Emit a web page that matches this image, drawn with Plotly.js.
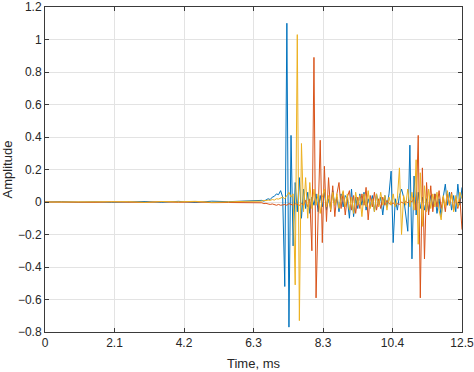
<!DOCTYPE html>
<html>
<head>
<meta charset="utf-8">
<script src="https://cdn.plot.ly/plotly-3.0.1.min.js"></script>
<style>html,body{margin:0;padding:0;background:#fff;}#chart{width:474px;height:372px;}</style>
</head>
<body>
<div id="chart"></div>
<script>
// Sparse samples of the quiet lead-in (ms)
const timePre = [0, 0.5, 1, 1.5, 2, 2.5, 3, 3.5, 4, 4.5, 5, 5.5, 6];
const bluePre = [0, 0.002, -0.001, 0.001, -0.002, 0.001, 0.003, -0.002, 0.004, -0.003, 0.005, 0.002, 0.006];
const orangePre = [0, -0.001, 0.001, -0.002, 0.001, -0.001, -0.003, 0.002, -0.002, 0.001, -0.004, -0.003, -0.004];
const yellowPre = [0, 0.001, 0.002, -0.001, 0.001, 0.002, -0.002, 0.003, 0.001, 0.004, -0.002, 0.003, 0.004];

// Dense sampled section: starts at 6.5 ms, sample step 0.0625 ms
const denseStart = 6.5;
const denseStep = 0.0625;
const blueDense = [
  0.01, 0.005, 0.012, 0.02, 0.015, 0.03, 0.035, 0.05, 0.045, 0.07,
  0.03, -0.52, 1.10, -0.77, 0.41, -0.27, 0.12, -0.06, 0.15, -0.10,
  0.08, -0.04, 0.06, -0.07, 0.03, -0.02, 0.05, -0.06, 0.04, -0.03,
  0.06, -0.05, 0.02, -0.04, 0.07, -0.02, 0.03, -0.06, 0.05, -0.03,
  0.04, 0.02, -0.10, 0.08, -0.09, 0.03, -0.04, 0.05, -0.02, 0.06,
  -0.05, 0.02, -0.03, 0.04, -0.06, 0.05, -0.02, 0.03, -0.08, 0.04,
  -0.03, 0.05, 0.19, -0.25, 0.02, -0.05, 0.04, 0.08, 0.03, -0.06,
  -0.18, 0.35, -0.35, 0.16, -0.08, 0.06, -0.04, 0.03, -0.05, 0.02,
  -0.06, 0.04, -0.03, 0.05, -0.07, 0.02, -0.09, 0.03, 0.11, -0.02,
  0.06, -0.05, 0.04, -0.06, 0.11, -0.02, 0.09
];
const orangeDense = [
  -0.005, -0.01, -0.008, -0.012, -0.015, -0.012, -0.018, -0.02, -0.015, -0.02,
  -0.018, -0.015, -0.02, -0.01, -0.015, -0.02, -0.01, -0.015, -0.02, -0.01,
  -0.02, 0.01, -0.03, 0.02, -0.30, 0.89, -0.59, -0.08, 0.38, -0.25,
  0.22, -0.12, 0.15, -0.06, 0.10, -0.09, 0.05, 0.12, -0.04, 0.06,
  -0.08, 0.03, 0.07, -0.05, 0.04, -0.07, 0.03, -0.04, 0.05, -0.02,
  0.09, -0.11, 0.04, -0.03, 0.06, -0.05, 0.02, -0.04, 0.03, -0.02,
  0.01, -0.01, -0.015, -0.005, -0.02, -0.01, -0.015, 0.0, -0.01, 0.005,
  -0.005, 0.01, 0.0, 0.03, -0.05, 0.41, -0.59, 0.21, -0.35, 0.12,
  -0.08, 0.10, -0.06, 0.05, -0.03, 0.07, -0.04, 0.03, -0.06, 0.05,
  -0.02, 0.06, -0.05, 0.03, -0.04, 0.02, -0.17
];
const yellowDense = [
  0.005, 0.01, 0.008, 0.012, 0.01, 0.015, 0.012, 0.02, 0.018, 0.025,
  0.03, 0.02, 0.04, 0.06, 0.03, 0.05, -0.51, 1.03, -0.73, 0.36,
  -0.06, 0.15, -0.10, 0.12, -0.04, 0.08, -0.02, 0.05, -0.07, 0.03,
  0.08, -0.03, 0.04, -0.05, 0.06, -0.02, 0.05, -0.04, 0.02, 0.07,
  -0.03, 0.05, -0.05, 0.03, -0.07, 0.06, -0.02, 0.04, -0.09, 0.05,
  -0.03, 0.07, -0.04, 0.02, -0.06, 0.05, -0.03, 0.06, -0.02, 0.04,
  -0.05, 0.03, -0.02, 0.05, -0.03, 0.02, 0.21, -0.20, 0.04, -0.02,
  0.08, -0.03, 0.06, -0.05, 0.26, -0.26, 0.18, -0.15, 0.10, -0.06,
  0.08, -0.04, 0.05, -0.03, 0.06, -0.05, -0.11, 0.04, -0.03, 0.07,
  -0.02, 0.05, -0.06, 0.04, -0.03, 0.06, 0.02
];

const tickValsX = [0, 12.5/6, 12.5/3, 6.25, 12.5*2/3, 12.5*5/6, 12.5];
const tickTextX = ['0', '2.1', '4.2', '6.3', '8.3', '10.4', '12.5'];
const tickValsY = [-0.8, -0.6, -0.4, -0.2, 0, 0.2, 0.4, 0.6, 0.8, 1, 1.2];

const timeDense = blueDense.map((_, i) => denseStart + i * denseStep);
const t = timePre.concat(timeDense);

const series = [
  {y: bluePre.concat(blueDense), color: '#0072BD'},
  {y: orangePre.concat(orangeDense), color: '#D95319'},
  {y: yellowPre.concat(yellowDense), color: '#EDB120'}
];

const traces = series.map(s => ({
  x: t, y: s.y, type: 'scatter', mode: 'lines',
  line: {color: s.color, width: 1}, hoverinfo: 'skip'
}));

const fontFam = 'Liberation Sans, Arial, sans-serif';
const axisCommon = {
  showline: true, linecolor: '#3a3a3a', linewidth: 1, mirror: 'ticks',
  ticks: 'inside', ticklen: 4, tickcolor: '#3a3a3a', tickwidth: 1,
  showgrid: true, gridcolor: '#e3e3e3', gridwidth: 1, zeroline: false,
  ticklabeloverflow: 'allow',
  tickfont: {family: fontFam, size: 12, color: '#262626'}
};

const layout = {
  width: 474, height: 372,
  margin: {l: 45, r: 12, t: 7, b: 40},
  paper_bgcolor: '#ffffff', plot_bgcolor: '#ffffff',
  showlegend: false,
  xaxis: Object.assign({}, axisCommon, {
    range: [0, 12.5], tickvals: tickValsX, ticktext: tickTextX,
    title: {text: 'Time, ms', font: {family: fontFam, size: 13, color: '#262626'}, standoff: 9}
  }),
  yaxis: Object.assign({}, axisCommon, {
    range: [-0.8, 1.2], tickvals: tickValsY,
    title: {text: 'Amplitude', font: {family: fontFam, size: 13, color: '#262626'}, standoff: 6}
  })
};

Plotly.newPlot('chart', traces, layout, {displayModeBar: false, staticPlot: true});
</script>
</body>
</html>
